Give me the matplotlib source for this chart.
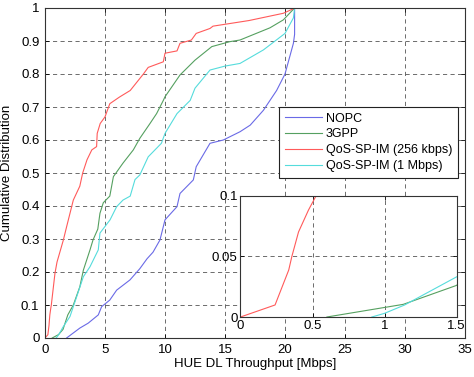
import matplotlib
matplotlib.use("Agg")
import matplotlib.pyplot as plt
from matplotlib.ticker import FuncFormatter

plt.rcParams['font.family'] = ['Liberation Sans', 'DejaVu Sans']

# ---- data (throughput in Mbps, CDF) ----
nopc_x = [1.8, 2.9, 3.6, 4.44, 4.72, 5.4, 5.97, 7.08, 7.9, 8.5, 9.0, 9.58, 10.0, 11.0, 11.25,
          12.36, 12.6, 13.75, 14.86, 16.25, 17.1, 18.2, 19.3, 20.0, 20.7, 20.8, 20.8]
nopc_y = [0, 0.03, 0.045, 0.07, 0.095, 0.115, 0.145, 0.176, 0.21, 0.24, 0.26, 0.297, 0.358, 0.398, 0.438,
          0.479, 0.519, 0.59, 0.60, 0.625, 0.645, 0.69, 0.75, 0.80, 0.893, 0.92, 1.0]

gpp_x = [0.6, 1.13, 1.5, 1.9, 2.36, 2.9, 3.2, 3.75, 4.0, 4.4, 4.58, 4.86, 5.4, 5.7, 6.5, 7.36, 7.9,
         8.75, 9.3, 9.86, 10.0, 11.25, 12.5, 13.9, 15.4, 16.25, 18.75, 19.86, 20.8]
gpp_y = [0, 0.0104, 0.026, 0.07, 0.1, 0.155, 0.206, 0.267, 0.297, 0.33, 0.378, 0.41, 0.43, 0.489, 0.53,
         0.57, 0.605, 0.65, 0.68, 0.72, 0.731, 0.797, 0.842, 0.883, 0.898, 0.903, 0.94, 0.964, 1.0]

qos256_x = [0, 0.24, 0.335, 0.357, 0.403, 0.472, 0.526, 0.83, 1.0, 1.53, 1.8, 2.36, 2.9, 3.14, 3.5,
            3.9, 4.3, 4.35, 4.6, 5.0, 5.4, 6.2, 7.1, 8.2, 8.6, 9.86, 10.0, 11.0, 11.25, 12.2, 12.6,
            13.75, 14.0, 17.0, 19.86, 20.83]
qos256_y = [0, 0.0099, 0.0387, 0.05, 0.07, 0.088, 0.1, 0.196, 0.23, 0.297, 0.337, 0.418, 0.46, 0.5, 0.54,
            0.57, 0.58, 0.62, 0.65, 0.67, 0.71, 0.73, 0.75, 0.8, 0.82, 0.837, 0.863, 0.87, 0.893, 0.903, 0.923,
            0.938, 0.945, 0.962, 0.984, 1.0]

qos1m_x = [0.912, 1.0, 1.14, 1.5, 2.08, 2.64, 3.2, 3.75, 4.44, 4.58, 5.42, 5.97, 6.5, 7.1, 7.5, 7.9, 8.6,
           9.7, 10.0, 11.0, 12.1, 12.5, 13.75, 15.0, 16.25, 18.2, 20.0, 20.7, 20.8]
qos1m_y = [0, 0.003, 0.0099, 0.033, 0.065, 0.125, 0.186, 0.216, 0.267, 0.318, 0.358, 0.398, 0.418, 0.43, 0.48,
           0.494, 0.549, 0.59, 0.62, 0.68, 0.72, 0.757, 0.812, 0.824, 0.832, 0.873, 0.923, 0.97, 1.0]

labels = ['NOPC', '3GPP', 'QoS-SP-IM (256 kbps)', 'QoS-SP-IM (1 Mbps)']
colors = ['#6a6ae6', '#55a060', '#ff5a5a', '#55dcdc']
series = [(nopc_x, nopc_y), (gpp_x, gpp_y), (qos256_x, qos256_y), (qos1m_x, qos1m_y)]

main_xticks = [0, 5, 10, 15, 20, 25, 30, 35]
main_yticks = [0, 0.1, 0.2, 0.3, 0.4, 0.5, 0.6, 0.7, 0.8, 0.9, 1]
inset_xticks = [0, 0.5, 1, 1.5]
inset_yticks = [0, 0.05, 0.1]

fmt = FuncFormatter(lambda v, p: '%g' % round(v, 4))
FS = 9.5
LFS = 9

fig = plt.figure(figsize=(4.74, 3.77), dpi=100)
ax = fig.add_axes([45/474, 1-338/377, 420/474, 330/377])

for (x, y), c, l in zip(series, colors, labels):
    ax.plot(x, y, color=c, lw=0.8, label=l)

ax.set_xlim(0, 35)
ax.set_ylim(0, 1)
ax.set_xticks(main_xticks)
ax.set_yticks(main_yticks)
ax.xaxis.set_major_formatter(fmt)
ax.yaxis.set_major_formatter(fmt)
ax.tick_params(direction='in', top=True, right=True, labelsize=FS, length=3, width=0.6, pad=4)
ax.grid(True, linestyle=(0, (5, 4)), color='#555555', lw=0.6)
for s in ax.spines.values():
    s.set_linewidth(0.8)
    s.set_color('#333333')
ax.set_xlabel('HUE DL Throughput [Mbps]', fontsize=FS, labelpad=2)
ax.set_ylabel('Cumulative Distribution', fontsize=FS, labelpad=6)

leg = ax.legend(loc='upper right', bbox_to_anchor=(0.983, 0.70), fontsize=LFS,
                fancybox=False, framealpha=1, edgecolor='#222222',
                handlelength=3.0, handletextpad=0.3, borderpad=0.45, labelspacing=0.3,
                borderaxespad=0)
leg.get_frame().set_linewidth(0.8)

ins = fig.add_axes([240.5/474, 1-317/377, 216/474, 121.5/377])
for (x, y), c in zip(series, colors):
    ins.plot(x, y, color=c, lw=0.8)
ins.set_xlim(0, 1.5)
ins.set_ylim(0, 0.1)
ins.set_xticks(inset_xticks)
ins.set_yticks(inset_yticks)
ins.xaxis.set_major_formatter(fmt)
ins.yaxis.set_major_formatter(fmt)
ins.tick_params(direction='in', top=True, right=True, labelsize=FS, length=3, width=0.6, pad=2)
ins.grid(True, linestyle=(0, (5, 4)), color='#555555', lw=0.6)
for s in ins.spines.values():
    s.set_linewidth(0.8)
    s.set_color('#333333')

fig.savefig('out.png', dpi=100)
